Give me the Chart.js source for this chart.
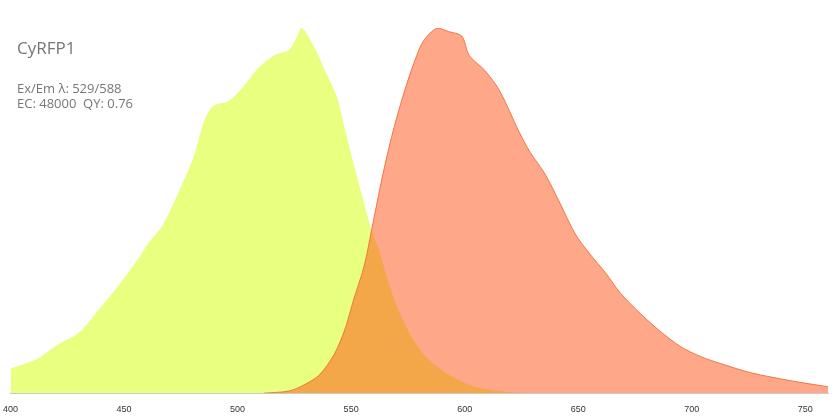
<!DOCTYPE html>
<html lang="en">
<head>
    <meta charset="UTF-8">
    <title>CyRFP1 spectra</title>
    <script src="https://cdn.jsdelivr.net/npm/chart.js"></script>
    <style>
        body { margin: 0; font-family: "Open Sans", "DejaVu Sans", sans-serif; }
        #wrap { position: relative; width: 840px; height: 420px; }
        #info { position: absolute; left: 17px; top: 36px; color: #777; pointer-events: none; }
        #info .name { font-size: 17px; margin-bottom: 22px; }
        #info .meta { font-size: 13px; line-height: 15px; }
    </style>
</head>
<body>
<div id="wrap">
    <canvas id="spectra" width="840" height="420"></canvas>
    <div id="info">
        <div class="name">CyRFP1</div>
        <div class="meta">Ex/Em λ: 529/588<br>EC: 48000&nbsp;&nbsp;QY: 0.76</div>
    </div>
</div>
<script>
    // wavelengths (nm) and normalized intensities
    const exWave = [400,412,421,430,438.5,447,456,460.6,467,474,480.5,485,489,496,502.6,509,516,522.6,525.7,528.3,533.6,538,543.8,547,551,554.4,558.8,562.4,566.8,571,576.5,582,589,598,606.6,620,628.8];
    const exVals = [0.067,0.095,0.134,0.165,0.226,0.29,0.366,0.41,0.46,0.55,0.645,0.74,0.785,0.80,0.84,0.89,0.925,0.94,0.97,1.0,0.95,0.89,0.81,0.73,0.63,0.55,0.45,0.39,0.296,0.226,0.156,0.106,0.067,0.034,0.014,0.003,0];
    const emWave = [511.5,522.6,529,536,542.5,547,551,555.8,560,564.6,569,573.5,578,582,588,593,598.7,602,609,615.5,624,628.8,635.4,642,648.7,655.3,662,668.6,677.4,686,695,704,712.8,726,743.8,760.6];
    const emVals = [0,0.006,0.022,0.05,0.106,0.17,0.254,0.35,0.478,0.617,0.73,0.827,0.91,0.966,1.0,0.99,0.978,0.925,0.883,0.827,0.715,0.66,0.60,0.52,0.436,0.38,0.33,0.274,0.218,0.17,0.128,0.1,0.081,0.056,0.034,0.017];
    const xTicks = [400,450,500,550,600,650,700,750];

    const toPts = (xs, ys) => xs.map((x, i) => ({ x: x, y: ys[i] }));

    new Chart(document.getElementById('spectra').getContext('2d'), {
        type: 'line',
        data: {
            datasets: [
                {
                    label: 'Em',
                    data: toPts(emWave, emVals),
                    borderColor: 'rgba(240,110,60,0.9)',
                    borderWidth: 1,
                    backgroundColor: 'rgba(255,80,20,0.5)',
                    fill: 'origin',
                    pointRadius: 0,
                    tension: 0.3,
                },
                {
                    label: 'Ex',
                    data: toPts(exWave, exVals),
                    borderWidth: 0,
                    borderColor: 'rgba(0,0,0,0)',
                    backgroundColor: 'rgba(220,255,60,0.65)',
                    fill: 'origin',
                    pointRadius: 0,
                    tension: 0.3,
                }
            ]
        },
        options: {
            responsive: false,
            animation: false,
            layout: { padding: { left: 3, right: 12, top: 28, bottom: 2 } },
            plugins: { legend: { display: false }, tooltip: { enabled: false } },
            scales: {
                x: {
                    type: 'linear',
                    min: 400,
                    max: 760,
                    afterBuildTicks: axis => { axis.ticks = xTicks.map(v => ({ value: v })); },
                    grid: { display: false },
                    border: { color: '#ccc' },
                    ticks: { color: '#333', font: { size: 9 }, maxRotation: 0 }
                },
                y: { display: false, min: 0, max: 1 }
            }
        }
    });
</script>
</body>
</html>
